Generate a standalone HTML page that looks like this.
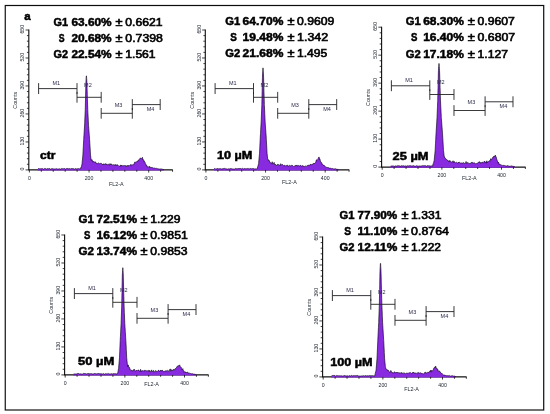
<!DOCTYPE html>
<html><head><meta charset="utf-8"><title>Figure a</title>
<style>
html,body{margin:0;padding:0;background:#fff;}
body{width:550px;height:414px;overflow:hidden;}
svg{display:block;font-family:"Liberation Sans",sans-serif;}
</style></head><body>
<svg width="550" height="414" viewBox="0 0 550 414">
<defs><filter id="soft" x="0" y="0" width="550" height="414" filterUnits="userSpaceOnUse"><feGaussianBlur stdDeviation="0.35"/></filter></defs>
<rect x="0" y="0" width="550" height="414" fill="#fff"/>
<g filter="url(#soft)">
<rect x="5.25" y="5.5" width="538.45" height="404.5" fill="none" stroke="#111" stroke-width="1.2"/>
<g transform="translate(0,0)">
<path d="M28.8,29.6 V170.5 M28.2,169.9 H172.8" stroke="#111" stroke-width="1.1" fill="none"/>
<path d="M37.5,170.45 L37.85,169.05 L38.5,168.51 L39.15,168.58 L39.8,168.96 L40.45,168.78 L41.1,168.81 L41.75,168.66 L42.4,168.56 L43.05,169.08 L43.7,169.13 L44.35,168.52 L45,168.83 L45.65,168.58 L46.3,169.15 L46.95,168.82 L47.6,168.61 L48.25,168.98 L48.9,168.44 L49.55,168.47 L50.2,169.13 L50.85,169.13 L51.5,168.74 L52.15,168.45 L52.8,168.86 L53.45,168.99 L54.1,168.83 L54.75,169.13 L55.4,168.98 L56.05,168.82 L56.7,168.78 L57.35,168.98 L58,168.98 L58.65,168.99 L59.3,168.81 L59.95,168.93 L60.6,169.13 L61.25,168.52 L61.9,168.73 L62.55,168.67 L63.2,169.01 L63.85,168.41 L64.5,168.51 L65.15,169.06 L65.8,168.9 L66.45,168.61 L67.1,168.62 L67.75,168.45 L68.4,168.83 L69.05,168.53 L69.7,168.65 L70.35,168.92 L71,168.71 L71.65,168.49 L72.3,168.52 L72.95,168.77 L73.6,168.71 L74.25,169.12 L74.9,168.97 L75.55,168.55 L76.2,168.84 L76.85,169.02 L77.5,168.74 L78.15,168.62 L78.8,168.64 L79.45,168.87 L80.1,168.82 L80.4,168.77 L80.75,167.75 L81.2,166.89 L81.4,166.79 L82,163.98 L82.05,163.47 L82.7,156.91 L82.9,154.89 L83.35,146.3 L83.7,139.62 L84,134.74 L84.6,125 L84.65,123.82 L85.25,109.63 L85.3,107.6 L85.55,97.45 L85.9,82.46 L85.95,81.68 L86.32,79.4 L86.4,79.4 L86.48,79.4 L86.6,79.4 L86.9,82.46 L87.25,94.12 L87.35,97.45 L87.75,109.63 L87.9,112.71 L88.5,125 L88.55,125.66 L89.2,134.3 L89.6,139.62 L89.85,143.86 L90.5,154.89 L91.15,160.26 L91.6,160.56 L91.8,159.5 L92.45,160.88 L92.9,161.1 L93.1,162.19 L93.75,161.35 L94,161.69 L94.4,162.22 L95.05,161.72 L95.7,162.11 L96.35,163.49 L97,163.25 L97.65,163.73 L98,163.39 L98.3,162.81 L98.95,163.28 L99.6,163.66 L100.25,163.37 L100.9,163.42 L101.55,163.46 L102.2,163.93 L102.85,165.03 L103.5,163.81 L104.15,164.16 L104.8,164.28 L105.45,163.58 L106,164.99 L106.1,164.69 L106.75,163.82 L107.4,164.92 L108.05,164.42 L108.7,164.17 L109.35,165.41 L110,163.54 L110.65,164.96 L111.3,163.83 L111.95,164.81 L112.6,165.15 L113.25,164.47 L113.9,165.32 L114.5,165.15 L114.55,165.27 L115.2,164.31 L115.85,165.81 L116.5,164.87 L117.15,164.93 L117.8,164.83 L118.45,165.75 L119.1,166.48 L119.75,166.46 L120.4,164.92 L121.05,166.3 L121.7,164.97 L122.35,165.79 L123,166.1 L123.65,165.58 L124.3,165.53 L124.95,165.66 L125.6,165.98 L126,165.37 L126.25,166.79 L126.9,166.2 L127.55,165.36 L128.2,166.27 L128.85,165.14 L129.5,165.92 L130.15,165.27 L130.8,164.69 L131,164.22 L131.45,165.87 L132.1,165.51 L132.75,164.57 L133.4,164.68 L134,164.55 L134.05,163.99 L134.7,162.11 L135.35,162.18 L136,162.56 L136.65,161.56 L137.3,161.12 L137.8,161.1 L137.95,161.32 L138.6,159.87 L139.25,159.88 L139.8,158.69 L139.9,158.81 L140.55,157.83 L141.2,158.73 L141.85,158.2 L142.5,157.37 L142.6,159.44 L143.15,159.18 L143.8,161.63 L144.4,160.79 L144.45,161.49 L145.1,162.6 L145.75,164.96 L146.4,164.95 L146.5,164.84 L147.05,167 L147.7,166.71 L148.35,166.65 L149,167.47 L149.65,166.26 L150.3,167.7 L150.95,167.21 L151.6,167.51 L152.25,167.58 L152.4,167.76 L152.9,167.61 L153.55,168.19 L154.2,168.13 L154.85,168.08 L155.5,168.38 L156.15,168.52 L156.8,168.29 L157.45,168.72 L158,168.68 L158.1,168.66 L158.75,169.01 L159.4,169.05 L160.05,168.92 L160.7,168.99 L161.35,169.04 L162,169 L162.65,169.33 L163.3,169.45 L163.95,169.45 L164,169.45 L164,170.45 Z" fill="#8729e0" stroke="none"/>
<path d="M37.85,169.05 L38.5,168.51 L39.15,168.58 L39.8,168.96 L40.45,168.78 L41.1,168.81 L41.75,168.66 L42.4,168.56 L43.05,169.08 L43.7,169.13 L44.35,168.52 L45,168.83 L45.65,168.58 L46.3,169.15 L46.95,168.82 L47.6,168.61 L48.25,168.98 L48.9,168.44 L49.55,168.47 L50.2,169.13 L50.85,169.13 L51.5,168.74 L52.15,168.45 L52.8,168.86 L53.45,168.99 L54.1,168.83 L54.75,169.13 L55.4,168.98 L56.05,168.82 L56.7,168.78 L57.35,168.98 L58,168.98 L58.65,168.99 L59.3,168.81 L59.95,168.93 L60.6,169.13 L61.25,168.52 L61.9,168.73 L62.55,168.67 L63.2,169.01 L63.85,168.41 L64.5,168.51 L65.15,169.06 L65.8,168.9 L66.45,168.61 L67.1,168.62 L67.75,168.45 L68.4,168.83 L69.05,168.53 L69.7,168.65 L70.35,168.92 L71,168.71 L71.65,168.49 L72.3,168.52 L72.95,168.77 L73.6,168.71 L74.25,169.12 L74.9,168.97 L75.55,168.55 L76.2,168.84 L76.85,169.02 L77.5,168.74 L78.15,168.62 L78.8,168.64 L79.45,168.87 L80.1,168.82 L80.4,168.77 L80.75,167.75 L81.2,166.89 L81.4,166.79 L82,163.98 L82.05,163.47 L82.7,156.91 L82.9,154.89 L83.35,146.3 L83.7,139.62 L84,134.74 L84.6,125 L84.65,123.82 L85.25,109.63 L85.3,107.6 L85.55,97.45 L85.9,82.46 L85.95,81.68 L86.32,75.9 L86.4,75.9 L86.48,75.9 L86.6,77.77 L86.9,82.46 L87.25,94.12 L87.35,97.45 L87.75,109.63 L87.9,112.71 L88.5,125 L88.55,125.66 L89.2,134.3 L89.6,139.62 L89.85,143.86 L90.5,154.89 L91.15,160.26 L91.6,160.56 L91.8,159.5 L92.45,160.88 L92.9,161.1 L93.1,162.19 L93.75,161.35 L94,161.69 L94.4,162.22 L95.05,161.72 L95.7,162.11 L96.35,163.49 L97,163.25 L97.65,163.73 L98,163.39 L98.3,162.81 L98.95,163.28 L99.6,163.66 L100.25,163.37 L100.9,163.42 L101.55,163.46 L102.2,163.93 L102.85,165.03 L103.5,163.81 L104.15,164.16 L104.8,164.28 L105.45,163.58 L106,164.99 L106.1,164.69 L106.75,163.82 L107.4,164.92 L108.05,164.42 L108.7,164.17 L109.35,165.41 L110,163.54 L110.65,164.96 L111.3,163.83 L111.95,164.81 L112.6,165.15 L113.25,164.47 L113.9,165.32 L114.5,165.15 L114.55,165.27 L115.2,164.31 L115.85,165.81 L116.5,164.87 L117.15,164.93 L117.8,164.83 L118.45,165.75 L119.1,166.48 L119.75,166.46 L120.4,164.92 L121.05,166.3 L121.7,164.97 L122.35,165.79 L123,166.1 L123.65,165.58 L124.3,165.53 L124.95,165.66 L125.6,165.98 L126,165.37 L126.25,166.79 L126.9,166.2 L127.55,165.36 L128.2,166.27 L128.85,165.14 L129.5,165.92 L130.15,165.27 L130.8,164.69 L131,164.22 L131.45,165.87 L132.1,165.51 L132.75,164.57 L133.4,164.68 L134,164.55 L134.05,163.99 L134.7,162.11 L135.35,162.18 L136,162.56 L136.65,161.56 L137.3,161.12 L137.8,161.1 L137.95,161.32 L138.6,159.87 L139.25,159.88 L139.8,158.69 L139.9,158.81 L140.55,157.83 L141.2,158.73 L141.85,158.2 L142.5,157.37 L142.6,159.44 L143.15,159.18 L143.8,161.63 L144.4,160.79 L144.45,161.49 L145.1,162.6 L145.75,164.96 L146.4,164.95 L146.5,164.84 L147.05,167 L147.7,166.71 L148.35,166.65 L149,167.47 L149.65,166.26 L150.3,167.7 L150.95,167.21 L151.6,167.51 L152.25,167.58 L152.4,167.76 L152.9,167.61 L153.55,168.19 L154.2,168.13 L154.85,168.08 L155.5,168.38 L156.15,168.52 L156.8,168.29 L157.45,168.72 L158,168.68 L158.1,168.66 L158.75,169.01 L159.4,169.05 L160.05,168.92 L160.7,168.99 L161.35,169.04 L162,169 L162.65,169.33 L163.3,169.45 L163.95,169.45 L164,169.45" fill="none" stroke="#0c0418" stroke-width="0.65" stroke-linejoin="round"/>
<path d="M25.6,30 H28.8 M26.9,35.6 H28.8 M26.9,41.19 H28.8 M26.9,46.79 H28.8 M26.9,52.38 H28.8 M25.6,57.98 H28.8 M26.9,63.58 H28.8 M26.9,69.17 H28.8 M26.9,74.77 H28.8 M26.9,80.36 H28.8 M25.6,85.96 H28.8 M26.9,91.56 H28.8 M26.9,97.15 H28.8 M26.9,102.75 H28.8 M26.9,108.34 H28.8 M25.6,113.94 H28.8 M26.9,119.54 H28.8 M26.9,125.13 H28.8 M26.9,130.73 H28.8 M26.9,136.32 H28.8 M25.6,141.92 H28.8 M26.9,147.52 H28.8 M26.9,153.11 H28.8 M26.9,158.71 H28.8 M26.9,164.3 H28.8 M25.6,169.9 H28.8 M29.4,169.9 V172.5 M41.33,169.9 V171.8 M53.26,169.9 V171.8 M65.19,169.9 V171.8 M77.12,169.9 V171.8 M89.05,169.9 V172.5 M100.98,169.9 V171.8 M112.91,169.9 V171.8 M124.84,169.9 V171.8 M136.77,169.9 V171.8 M148.7,169.9 V172.5 M160.63,169.9 V171.8 M172.56,169.9 V171.8" stroke="#111" stroke-width="0.8" fill="none"/>
<text transform="translate(24,29.2) rotate(-90)" text-anchor="middle" font-size="5.3" fill="#222a34">650</text>
<text transform="translate(24,57.18) rotate(-90)" text-anchor="middle" font-size="5.3" fill="#222a34">520</text>
<text transform="translate(24,85.16) rotate(-90)" text-anchor="middle" font-size="5.3" fill="#222a34">390</text>
<text transform="translate(24,113.14) rotate(-90)" text-anchor="middle" font-size="5.3" fill="#222a34">260</text>
<text transform="translate(24,141.12) rotate(-90)" text-anchor="middle" font-size="5.3" fill="#222a34">130</text>
<text transform="translate(24,169.1) rotate(-90)" text-anchor="middle" font-size="5.3" fill="#222a34">0</text>
<text x="29.4" y="179.5" text-anchor="middle" font-size="5.2" fill="#222a34">0</text>
<text x="89.05" y="179.5" text-anchor="middle" font-size="5.2" fill="#222a34">200</text>
<text x="148.7" y="179.5" text-anchor="middle" font-size="5.2" fill="#222a34">400</text>
<text x="116.3" y="186.2" text-anchor="middle" font-size="5.4" fill="#222a34">FL2-A</text>
<text transform="translate(17.3,100.3) rotate(-90)" text-anchor="middle" font-size="5.3" fill="#222a34">Counts</text>
<path d="M38.6,88.6 H77 M38.6,83.1 V94 M77,83.1 V94 M77,97.3 H101.2 M77,91.9 V102.7 M101.2,91.9 V102.7 M101.2,113.3 H132.3 M101.2,108 V118.7 M132.3,108 V118.7 M132.3,104.6 H160.2 M132.3,99.1 V110 M160.2,99.1 V110" stroke="#222226" stroke-width="0.9" fill="none"/>
<text x="56.2" y="85.3" text-anchor="middle" font-size="5.5" fill="#2a2a48">M1</text>
<text x="87.9" y="87.2" text-anchor="middle" font-size="5.5" fill="#2a2a48">M2</text>
<text x="118.6" y="106.8" text-anchor="middle" font-size="5.5" fill="#2a2a48">M3</text>
<text x="150.6" y="110.9" text-anchor="middle" font-size="5.5" fill="#2a2a48">M4</text>
</g>
<g transform="translate(176.5,0)">
<path d="M28.8,29.6 V170.5 M28.2,169.9 H172.8" stroke="#111" stroke-width="1.1" fill="none"/>
<path d="M37.5,170.45 L37.85,168.43 L38.5,168.44 L39.15,169.11 L39.8,169.09 L40.45,168.52 L41.1,168.6 L41.75,168.65 L42.4,168.92 L43.05,168.7 L43.7,168.69 L44.35,168.71 L45,169.03 L45.65,168.83 L46.3,168.85 L46.95,168.61 L47.6,168.4 L48.25,168.44 L48.9,168.74 L49.55,168.82 L50.2,168.95 L50.85,169.12 L51.5,169.13 L52.15,168.8 L52.8,168.91 L53.45,168.86 L54.1,168.48 L54.75,168.76 L55.4,168.73 L56.05,168.97 L56.7,169.13 L57.35,168.91 L58,169.05 L58.65,168.77 L59.3,168.4 L59.95,168.64 L60.6,169.01 L61.25,168.48 L61.9,168.55 L62.55,168.6 L63.2,168.47 L63.85,168.58 L64.5,168.56 L65.15,168.88 L65.8,168.41 L66.45,168.43 L67.1,169.03 L67.75,168.58 L68.4,168.61 L69.05,168.8 L69.7,168.75 L70.35,168.78 L71,168.46 L71.65,168.77 L72.3,168.53 L72.95,168.88 L73.6,168.49 L74.25,168.48 L74.9,168.8 L75.55,168.72 L76.2,168.46 L76.85,168.61 L77.5,168.79 L78.15,168.98 L78.8,168.91 L79.45,168.63 L80.1,169.03 L80.5,168.47 L80.75,168.31 L81.3,166.43 L81.4,166.38 L82.05,163.75 L82.1,163.5 L82.7,156.92 L83,153.63 L83.35,146.38 L83.8,137.06 L84,133.53 L84.65,122.07 L84.7,121.19 L85.3,105.79 L85.35,104.51 L85.65,91.29 L85.95,77.34 L86,75.02 L86.42,71.4 L86.5,71.4 L86.58,71.4 L86.6,71.4 L87,75.02 L87.25,84.06 L87.45,91.29 L87.85,104.51 L87.9,105.62 L88.5,118.97 L88.55,120.08 L88.6,121.19 L89.2,129.84 L89.7,137.06 L89.85,139.82 L90.5,151.79 L90.6,153.63 L91.15,158.57 L91.6,159.34 L91.7,160.17 L91.8,160.49 L92.45,159.93 L93,161.63 L93.1,161.37 L93.7,162.7 L93.75,162.49 L94.4,163.05 L94.5,163.22 L95.05,163.57 L95.7,161.74 L96.35,164.12 L97,163.29 L97.65,162.41 L98.3,165.08 L98.95,164.24 L99.6,165.24 L100.25,165.53 L100.9,164.42 L101.55,164.34 L101.9,164.48 L102.2,165.16 L102.85,164.89 L103.5,165.88 L104.15,163.7 L104.8,165.13 L105.45,164.39 L106.1,164.58 L106.75,165.22 L107.4,166.26 L108.05,165.19 L108.7,165.41 L109.35,166.25 L110,165.59 L110.65,164.89 L111.3,166.12 L111.95,166.12 L112.6,165.52 L113.25,165.4 L113.9,165.92 L114.55,165.76 L115.2,165.11 L115.85,165.5 L116.5,165.7 L117.15,166.41 L117.8,165.95 L118.2,166.32 L118.45,166.49 L119.1,165.2 L119.75,166.1 L120.4,164.94 L121.05,166.11 L121.7,165.61 L122.35,165.44 L123,165.92 L123.65,165.76 L124.3,165.12 L124.95,166.75 L125.6,166.6 L126.25,165.34 L126.9,166.73 L127.55,166.06 L128,166.4 L128.2,166.6 L128.85,166.01 L129.5,166.44 L130.15,166.16 L130.8,165.74 L131.45,165.05 L132.1,165.15 L132.75,166.04 L133.4,165.01 L134.05,163.94 L134.6,164.83 L134.7,164.68 L135.35,165.01 L136,163.96 L136.65,164.14 L137.3,163.12 L137.5,163.07 L137.95,163.72 L138.6,162.77 L139.25,162.26 L139.5,161.19 L139.9,159.78 L140.55,160.35 L141.2,159.6 L141.85,158.13 L142.3,157.13 L142.5,156.93 L143.15,159.34 L143.3,158.91 L143.8,160.46 L144.45,162.52 L145.1,162.6 L145.2,164.29 L145.75,163.97 L146.4,164.53 L147,165.65 L147.05,165.19 L147.7,165.37 L148.35,166.01 L149,167 L149.3,167.72 L149.65,167.41 L150.3,167.3 L150.95,167.48 L151.6,167.4 L152.25,167.8 L152.9,167.96 L153,168.42 L153.55,168.35 L154.2,168.02 L154.85,168.77 L155.5,168.41 L156.15,168.54 L156.8,168.95 L157.45,168.69 L157.5,168.62 L158.1,169.05 L158.75,168.71 L159.4,169.02 L160.05,169.26 L160.7,169.35 L160.8,169.31 L161.35,169.43 L162,169.45 L162,170.45 Z" fill="#8729e0" stroke="none"/>
<path d="M37.85,168.43 L38.5,168.44 L39.15,169.11 L39.8,169.09 L40.45,168.52 L41.1,168.6 L41.75,168.65 L42.4,168.92 L43.05,168.7 L43.7,168.69 L44.35,168.71 L45,169.03 L45.65,168.83 L46.3,168.85 L46.95,168.61 L47.6,168.4 L48.25,168.44 L48.9,168.74 L49.55,168.82 L50.2,168.95 L50.85,169.12 L51.5,169.13 L52.15,168.8 L52.8,168.91 L53.45,168.86 L54.1,168.48 L54.75,168.76 L55.4,168.73 L56.05,168.97 L56.7,169.13 L57.35,168.91 L58,169.05 L58.65,168.77 L59.3,168.4 L59.95,168.64 L60.6,169.01 L61.25,168.48 L61.9,168.55 L62.55,168.6 L63.2,168.47 L63.85,168.58 L64.5,168.56 L65.15,168.88 L65.8,168.41 L66.45,168.43 L67.1,169.03 L67.75,168.58 L68.4,168.61 L69.05,168.8 L69.7,168.75 L70.35,168.78 L71,168.46 L71.65,168.77 L72.3,168.53 L72.95,168.88 L73.6,168.49 L74.25,168.48 L74.9,168.8 L75.55,168.72 L76.2,168.46 L76.85,168.61 L77.5,168.79 L78.15,168.98 L78.8,168.91 L79.45,168.63 L80.1,169.03 L80.5,168.47 L80.75,168.31 L81.3,166.43 L81.4,166.38 L82.05,163.75 L82.1,163.5 L82.7,156.92 L83,153.63 L83.35,146.38 L83.8,137.06 L84,133.53 L84.65,122.07 L84.7,121.19 L85.3,105.79 L85.35,104.51 L85.65,91.29 L85.95,77.34 L86,75.02 L86.42,67.9 L86.5,67.9 L86.58,67.9 L86.6,68.24 L87,75.02 L87.25,84.06 L87.45,91.29 L87.85,104.51 L87.9,105.62 L88.5,118.97 L88.55,120.08 L88.6,121.19 L89.2,129.84 L89.7,137.06 L89.85,139.82 L90.5,151.79 L90.6,153.63 L91.15,158.57 L91.6,159.34 L91.7,160.17 L91.8,160.49 L92.45,159.93 L93,161.63 L93.1,161.37 L93.7,162.7 L93.75,162.49 L94.4,163.05 L94.5,163.22 L95.05,163.57 L95.7,161.74 L96.35,164.12 L97,163.29 L97.65,162.41 L98.3,165.08 L98.95,164.24 L99.6,165.24 L100.25,165.53 L100.9,164.42 L101.55,164.34 L101.9,164.48 L102.2,165.16 L102.85,164.89 L103.5,165.88 L104.15,163.7 L104.8,165.13 L105.45,164.39 L106.1,164.58 L106.75,165.22 L107.4,166.26 L108.05,165.19 L108.7,165.41 L109.35,166.25 L110,165.59 L110.65,164.89 L111.3,166.12 L111.95,166.12 L112.6,165.52 L113.25,165.4 L113.9,165.92 L114.55,165.76 L115.2,165.11 L115.85,165.5 L116.5,165.7 L117.15,166.41 L117.8,165.95 L118.2,166.32 L118.45,166.49 L119.1,165.2 L119.75,166.1 L120.4,164.94 L121.05,166.11 L121.7,165.61 L122.35,165.44 L123,165.92 L123.65,165.76 L124.3,165.12 L124.95,166.75 L125.6,166.6 L126.25,165.34 L126.9,166.73 L127.55,166.06 L128,166.4 L128.2,166.6 L128.85,166.01 L129.5,166.44 L130.15,166.16 L130.8,165.74 L131.45,165.05 L132.1,165.15 L132.75,166.04 L133.4,165.01 L134.05,163.94 L134.6,164.83 L134.7,164.68 L135.35,165.01 L136,163.96 L136.65,164.14 L137.3,163.12 L137.5,163.07 L137.95,163.72 L138.6,162.77 L139.25,162.26 L139.5,161.19 L139.9,159.78 L140.55,160.35 L141.2,159.6 L141.85,158.13 L142.3,157.13 L142.5,156.93 L143.15,159.34 L143.3,158.91 L143.8,160.46 L144.45,162.52 L145.1,162.6 L145.2,164.29 L145.75,163.97 L146.4,164.53 L147,165.65 L147.05,165.19 L147.7,165.37 L148.35,166.01 L149,167 L149.3,167.72 L149.65,167.41 L150.3,167.3 L150.95,167.48 L151.6,167.4 L152.25,167.8 L152.9,167.96 L153,168.42 L153.55,168.35 L154.2,168.02 L154.85,168.77 L155.5,168.41 L156.15,168.54 L156.8,168.95 L157.45,168.69 L157.5,168.62 L158.1,169.05 L158.75,168.71 L159.4,169.02 L160.05,169.26 L160.7,169.35 L160.8,169.31 L161.35,169.43 L162,169.45" fill="none" stroke="#0c0418" stroke-width="0.65" stroke-linejoin="round"/>
<path d="M25.6,30 H28.8 M26.9,35.6 H28.8 M26.9,41.19 H28.8 M26.9,46.79 H28.8 M26.9,52.38 H28.8 M25.6,57.98 H28.8 M26.9,63.58 H28.8 M26.9,69.17 H28.8 M26.9,74.77 H28.8 M26.9,80.36 H28.8 M25.6,85.96 H28.8 M26.9,91.56 H28.8 M26.9,97.15 H28.8 M26.9,102.75 H28.8 M26.9,108.34 H28.8 M25.6,113.94 H28.8 M26.9,119.54 H28.8 M26.9,125.13 H28.8 M26.9,130.73 H28.8 M26.9,136.32 H28.8 M25.6,141.92 H28.8 M26.9,147.52 H28.8 M26.9,153.11 H28.8 M26.9,158.71 H28.8 M26.9,164.3 H28.8 M25.6,169.9 H28.8 M29.4,169.9 V172.5 M41.33,169.9 V171.8 M53.26,169.9 V171.8 M65.19,169.9 V171.8 M77.12,169.9 V171.8 M89.05,169.9 V172.5 M100.98,169.9 V171.8 M112.91,169.9 V171.8 M124.84,169.9 V171.8 M136.77,169.9 V171.8 M148.7,169.9 V172.5 M160.63,169.9 V171.8 M172.56,169.9 V171.8" stroke="#111" stroke-width="0.8" fill="none"/>
<text transform="translate(24,29.2) rotate(-90)" text-anchor="middle" font-size="5.3" fill="#222a34">650</text>
<text transform="translate(24,57.18) rotate(-90)" text-anchor="middle" font-size="5.3" fill="#222a34">520</text>
<text transform="translate(24,85.16) rotate(-90)" text-anchor="middle" font-size="5.3" fill="#222a34">390</text>
<text transform="translate(24,113.14) rotate(-90)" text-anchor="middle" font-size="5.3" fill="#222a34">260</text>
<text transform="translate(24,141.12) rotate(-90)" text-anchor="middle" font-size="5.3" fill="#222a34">130</text>
<text transform="translate(24,169.1) rotate(-90)" text-anchor="middle" font-size="5.3" fill="#222a34">0</text>
<text x="29.4" y="179.5" text-anchor="middle" font-size="5.2" fill="#222a34">0</text>
<text x="89.05" y="179.5" text-anchor="middle" font-size="5.2" fill="#222a34">200</text>
<text x="148.7" y="179.5" text-anchor="middle" font-size="5.2" fill="#222a34">400</text>
<text x="112.9" y="184.4" text-anchor="middle" font-size="5.4" fill="#222a34">FL2-A</text>
<text transform="translate(17.3,100.3) rotate(-90)" text-anchor="middle" font-size="5.3" fill="#222a34">Counts</text>
<path d="M38.6,88.6 H77 M38.6,83.1 V94 M77,83.1 V94 M77,97.3 H101.2 M77,91.9 V102.7 M101.2,91.9 V102.7 M101.2,113.3 H132.3 M101.2,108 V118.7 M132.3,108 V118.7 M132.3,104.6 H160.2 M132.3,99.1 V110 M160.2,99.1 V110" stroke="#222226" stroke-width="0.9" fill="none"/>
<text x="56.2" y="85.3" text-anchor="middle" font-size="5.5" fill="#2a2a48">M1</text>
<text x="87.9" y="87.2" text-anchor="middle" font-size="5.5" fill="#2a2a48">M2</text>
<text x="118.6" y="106.8" text-anchor="middle" font-size="5.5" fill="#2a2a48">M3</text>
<text x="150.6" y="110.9" text-anchor="middle" font-size="5.5" fill="#2a2a48">M4</text>
</g>
<g transform="translate(352.8,-2.8)">
<path d="M28.8,29.6 V170.5 M28.2,169.9 H172.8" stroke="#111" stroke-width="1.1" fill="none"/>
<path d="M37.5,170.45 L37.85,168.97 L38.5,168.74 L39.15,168.87 L39.8,168.7 L40.45,168.68 L41.1,169.1 L41.75,169.14 L42.4,168.52 L43.05,168.96 L43.7,168.97 L44.35,168.4 L45,168.8 L45.65,168.52 L46.3,168.79 L46.95,168.67 L47.6,169.04 L48.25,168.67 L48.9,168.5 L49.55,168.76 L50.2,168.59 L50.85,168.65 L51.5,169.1 L52.15,168.58 L52.8,168.71 L53.45,168.92 L54.1,169.13 L54.75,168.5 L55.4,168.8 L56.05,168.61 L56.7,168.49 L57.35,168.61 L58,168.46 L58.65,168.85 L59.3,168.55 L59.95,168.82 L60.6,168.45 L61.25,168.49 L61.9,169.08 L62.55,169.05 L63.2,168.99 L63.85,168.43 L64.5,168.82 L65.15,168.68 L65.8,168.92 L66.45,168.77 L67.1,168.86 L67.75,168.89 L68.4,168.71 L69.05,168.71 L69.7,168.47 L70.35,168.64 L71,168.45 L71.65,168.51 L72.3,168.41 L72.95,168.65 L73.6,169.03 L74.25,168.5 L74.9,168.43 L75.55,168.47 L76.2,168.72 L76.85,168.61 L77.5,168.99 L78.15,168.53 L78.8,168.72 L79.45,168.94 L79.6,169.1 L80.1,167.34 L80.48,166.34 L80.75,165.75 L81.36,163.4 L81.4,163 L82.05,156.42 L82.35,153.38 L82.7,146.69 L83.23,136.54 L83.35,134.59 L84,124.01 L84.22,120.43 L84.65,110.24 L84.94,103.28 L85.27,89.84 L85.3,88.56 L85.65,73.53 L85.95,69.8 L86.11,69.8 L86.2,69.8 L86.29,69.8 L86.6,71.18 L86.75,73.53 L87.25,90.21 L87.69,103.59 L87.9,107.9 L88.5,120.22 L88.51,120.43 L88.55,120.96 L89.2,129.62 L89.72,136.54 L89.85,138.76 L90.5,149.81 L90.71,153.38 L91.15,157.03 L91.3,158.27 L91.8,160.56 L91.92,160.29 L92.45,160.83 L92.6,160.92 L93.1,162.25 L93.35,162.17 L93.75,162.32 L94.4,162.71 L95,163.31 L95.05,162.98 L95.7,164.14 L96,163.96 L96.35,164.9 L97,163.16 L97.65,164.13 L98.3,165.2 L98.95,164.64 L99.6,164.96 L100.25,163.53 L100.9,165.71 L101.55,164.3 L101.6,165.17 L102.2,165.44 L102.85,165.49 L103.5,165.05 L104.15,165.46 L104.8,166.09 L105.45,164.93 L106.1,165.84 L106.75,164.95 L107.4,165.56 L108.05,166.16 L108.7,165.81 L109.35,165.67 L110,166.16 L110.65,165.38 L111.3,165.75 L111.95,166.34 L112.6,166.26 L113.25,164.29 L113.9,166.17 L114.55,165.59 L115.2,165.22 L115.85,166.25 L116.5,166.31 L117.15,166.1 L117.8,166.14 L118,165.68 L118.45,165.24 L119.1,165.15 L119.75,165.2 L120.4,166.42 L121.05,165.37 L121.7,165.89 L122.35,166.18 L123,166.63 L123.65,166.25 L124.3,166.65 L124.95,165.53 L125.6,165.17 L126.25,164.8 L126.9,164.5 L127.55,166.15 L128,165.76 L128.2,165.03 L128.85,165.98 L129.5,165.02 L130.15,165.08 L130.8,166 L131.45,163.98 L132.1,164.85 L132.75,164.75 L133.4,166.04 L134.05,163.61 L134.3,165.49 L134.7,164.82 L135.35,164.53 L136,164.05 L136.65,163.46 L137.3,164.08 L137.95,161.46 L138.4,162.7 L138.6,162.79 L139.25,161.48 L139.9,160.33 L140.55,159.65 L140.6,160.11 L141.2,158.84 L141.85,159.36 L142.5,157.92 L143.15,159.75 L143.4,159.89 L143.8,161.68 L144.45,163.33 L144.9,164.87 L145.1,165.88 L145.75,165.03 L146.4,167.18 L146.5,166.68 L147.05,167.62 L147.7,167.48 L148.35,167.67 L149,168.19 L149.65,168.19 L150.3,168.38 L150.95,168.17 L151.6,168.21 L152.25,168.82 L152.9,168.62 L153.55,168.91 L154.2,168.65 L154.85,168.39 L155,168.64 L155.5,168.68 L156.15,168.83 L156.8,169.08 L157.45,168.93 L158.1,169.11 L158.75,168.68 L159.4,169.1 L160.05,168.98 L160.5,169.19 L160.7,169.14 L161.35,169.4 L162,169.45 L162,170.45 Z" fill="#8729e0" stroke="none"/>
<path d="M37.85,168.97 L38.5,168.74 L39.15,168.87 L39.8,168.7 L40.45,168.68 L41.1,169.1 L41.75,169.14 L42.4,168.52 L43.05,168.96 L43.7,168.97 L44.35,168.4 L45,168.8 L45.65,168.52 L46.3,168.79 L46.95,168.67 L47.6,169.04 L48.25,168.67 L48.9,168.5 L49.55,168.76 L50.2,168.59 L50.85,168.65 L51.5,169.1 L52.15,168.58 L52.8,168.71 L53.45,168.92 L54.1,169.13 L54.75,168.5 L55.4,168.8 L56.05,168.61 L56.7,168.49 L57.35,168.61 L58,168.46 L58.65,168.85 L59.3,168.55 L59.95,168.82 L60.6,168.45 L61.25,168.49 L61.9,169.08 L62.55,169.05 L63.2,168.99 L63.85,168.43 L64.5,168.82 L65.15,168.68 L65.8,168.92 L66.45,168.77 L67.1,168.86 L67.75,168.89 L68.4,168.71 L69.05,168.71 L69.7,168.47 L70.35,168.64 L71,168.45 L71.65,168.51 L72.3,168.41 L72.95,168.65 L73.6,169.03 L74.25,168.5 L74.9,168.43 L75.55,168.47 L76.2,168.72 L76.85,168.61 L77.5,168.99 L78.15,168.53 L78.8,168.72 L79.45,168.94 L79.6,169.1 L80.1,167.34 L80.48,166.34 L80.75,165.75 L81.36,163.4 L81.4,163 L82.05,156.42 L82.35,153.38 L82.7,146.69 L83.23,136.54 L83.35,134.59 L84,124.01 L84.22,120.43 L84.65,110.24 L84.94,103.28 L85.27,89.84 L85.3,88.56 L85.65,73.53 L85.95,68.84 L86.11,66.33 L86.2,66.3 L86.29,66.33 L86.6,71.18 L86.75,73.53 L87.25,90.21 L87.69,103.59 L87.9,107.9 L88.5,120.22 L88.51,120.43 L88.55,120.96 L89.2,129.62 L89.72,136.54 L89.85,138.76 L90.5,149.81 L90.71,153.38 L91.15,157.03 L91.3,158.27 L91.8,160.56 L91.92,160.29 L92.45,160.83 L92.6,160.92 L93.1,162.25 L93.35,162.17 L93.75,162.32 L94.4,162.71 L95,163.31 L95.05,162.98 L95.7,164.14 L96,163.96 L96.35,164.9 L97,163.16 L97.65,164.13 L98.3,165.2 L98.95,164.64 L99.6,164.96 L100.25,163.53 L100.9,165.71 L101.55,164.3 L101.6,165.17 L102.2,165.44 L102.85,165.49 L103.5,165.05 L104.15,165.46 L104.8,166.09 L105.45,164.93 L106.1,165.84 L106.75,164.95 L107.4,165.56 L108.05,166.16 L108.7,165.81 L109.35,165.67 L110,166.16 L110.65,165.38 L111.3,165.75 L111.95,166.34 L112.6,166.26 L113.25,164.29 L113.9,166.17 L114.55,165.59 L115.2,165.22 L115.85,166.25 L116.5,166.31 L117.15,166.1 L117.8,166.14 L118,165.68 L118.45,165.24 L119.1,165.15 L119.75,165.2 L120.4,166.42 L121.05,165.37 L121.7,165.89 L122.35,166.18 L123,166.63 L123.65,166.25 L124.3,166.65 L124.95,165.53 L125.6,165.17 L126.25,164.8 L126.9,164.5 L127.55,166.15 L128,165.76 L128.2,165.03 L128.85,165.98 L129.5,165.02 L130.15,165.08 L130.8,166 L131.45,163.98 L132.1,164.85 L132.75,164.75 L133.4,166.04 L134.05,163.61 L134.3,165.49 L134.7,164.82 L135.35,164.53 L136,164.05 L136.65,163.46 L137.3,164.08 L137.95,161.46 L138.4,162.7 L138.6,162.79 L139.25,161.48 L139.9,160.33 L140.55,159.65 L140.6,160.11 L141.2,158.84 L141.85,159.36 L142.5,157.92 L143.15,159.75 L143.4,159.89 L143.8,161.68 L144.45,163.33 L144.9,164.87 L145.1,165.88 L145.75,165.03 L146.4,167.18 L146.5,166.68 L147.05,167.62 L147.7,167.48 L148.35,167.67 L149,168.19 L149.65,168.19 L150.3,168.38 L150.95,168.17 L151.6,168.21 L152.25,168.82 L152.9,168.62 L153.55,168.91 L154.2,168.65 L154.85,168.39 L155,168.64 L155.5,168.68 L156.15,168.83 L156.8,169.08 L157.45,168.93 L158.1,169.11 L158.75,168.68 L159.4,169.1 L160.05,168.98 L160.5,169.19 L160.7,169.14 L161.35,169.4 L162,169.45" fill="none" stroke="#0c0418" stroke-width="0.65" stroke-linejoin="round"/>
<path d="M25.6,30 H28.8 M26.9,35.6 H28.8 M26.9,41.19 H28.8 M26.9,46.79 H28.8 M26.9,52.38 H28.8 M25.6,57.98 H28.8 M26.9,63.58 H28.8 M26.9,69.17 H28.8 M26.9,74.77 H28.8 M26.9,80.36 H28.8 M25.6,85.96 H28.8 M26.9,91.56 H28.8 M26.9,97.15 H28.8 M26.9,102.75 H28.8 M26.9,108.34 H28.8 M25.6,113.94 H28.8 M26.9,119.54 H28.8 M26.9,125.13 H28.8 M26.9,130.73 H28.8 M26.9,136.32 H28.8 M25.6,141.92 H28.8 M26.9,147.52 H28.8 M26.9,153.11 H28.8 M26.9,158.71 H28.8 M26.9,164.3 H28.8 M25.6,169.9 H28.8 M29.4,169.9 V172.5 M41.33,169.9 V171.8 M53.26,169.9 V171.8 M65.19,169.9 V171.8 M77.12,169.9 V171.8 M89.05,169.9 V172.5 M100.98,169.9 V171.8 M112.91,169.9 V171.8 M124.84,169.9 V171.8 M136.77,169.9 V171.8 M148.7,169.9 V172.5 M160.63,169.9 V171.8 M172.56,169.9 V171.8" stroke="#111" stroke-width="0.8" fill="none"/>
<text transform="translate(24,29.2) rotate(-90)" text-anchor="middle" font-size="5.3" fill="#222a34">650</text>
<text transform="translate(24,57.18) rotate(-90)" text-anchor="middle" font-size="5.3" fill="#222a34">520</text>
<text transform="translate(24,85.16) rotate(-90)" text-anchor="middle" font-size="5.3" fill="#222a34">390</text>
<text transform="translate(24,113.14) rotate(-90)" text-anchor="middle" font-size="5.3" fill="#222a34">260</text>
<text transform="translate(24,141.12) rotate(-90)" text-anchor="middle" font-size="5.3" fill="#222a34">130</text>
<text transform="translate(24,169.1) rotate(-90)" text-anchor="middle" font-size="5.3" fill="#222a34">0</text>
<text x="29.4" y="179.5" text-anchor="middle" font-size="5.2" fill="#222a34">0</text>
<text x="89.05" y="179.5" text-anchor="middle" font-size="5.2" fill="#222a34">200</text>
<text x="148.7" y="179.5" text-anchor="middle" font-size="5.2" fill="#222a34">400</text>
<text x="116.5" y="182.8" text-anchor="middle" font-size="5.4" fill="#222a34">FL2-A</text>
<text transform="translate(17.3,100.3) rotate(-90)" text-anchor="middle" font-size="5.3" fill="#222a34">Counts</text>
<path d="M38.6,88.6 H77 M38.6,83.1 V94 M77,83.1 V94 M77,97.3 H101.2 M77,91.9 V102.7 M101.2,91.9 V102.7 M101.2,113.3 H132.3 M101.2,108 V118.7 M132.3,108 V118.7 M132.3,104.6 H160.2 M132.3,99.1 V110 M160.2,99.1 V110" stroke="#222226" stroke-width="0.9" fill="none"/>
<text x="56.2" y="85.3" text-anchor="middle" font-size="5.5" fill="#2a2a48">M1</text>
<text x="87.9" y="87.2" text-anchor="middle" font-size="5.5" fill="#2a2a48">M2</text>
<text x="118.6" y="106.8" text-anchor="middle" font-size="5.5" fill="#2a2a48">M3</text>
<text x="150.6" y="110.9" text-anchor="middle" font-size="5.5" fill="#2a2a48">M4</text>
</g>
<g transform="translate(35.8,205)">
<path d="M28.8,29.6 V170.5 M28.2,169.9 H172.8" stroke="#111" stroke-width="1.1" fill="none"/>
<path d="M37.5,170.45 L37.85,168.97 L38.5,169.07 L39.15,168.85 L39.8,169.03 L40.45,169.1 L41.1,168.85 L41.75,168.46 L42.4,168.55 L43.05,168.58 L43.7,168.98 L44.35,168.75 L45,168.94 L45.65,169.02 L46.3,169.07 L46.95,168.99 L47.6,168.45 L48.25,168.53 L48.9,168.55 L49.55,168.55 L50.2,169 L50.85,168.92 L51.5,168.68 L52.15,168.6 L52.8,168.51 L53.45,168.49 L54.1,169.08 L54.75,168.7 L55.4,168.65 L56.05,168.77 L56.7,169.02 L57.35,168.79 L58,169.08 L58.65,168.45 L59.3,168.5 L59.95,168.74 L60.6,168.92 L61.25,168.47 L61.9,168.72 L62.55,168.49 L63.2,168.51 L63.85,168.77 L64.5,168.84 L65.15,168.7 L65.8,168.83 L66.45,169.03 L67.1,168.92 L67.75,168.54 L68.4,169.12 L69.05,169.12 L69.7,168.68 L70.35,168.94 L71,168.75 L71.65,168.8 L72.3,168.89 L72.95,168.4 L73.6,169 L74.25,168.84 L74.9,169 L75.55,168.68 L76.2,168.94 L76.85,168.88 L77.5,168.59 L78.15,168.91 L78.8,168.73 L79.45,168.47 L80.1,169.07 L80.75,169.1 L81.3,168.98 L81.4,168.29 L82.05,167.49 L82.06,167.46 L82.7,163.86 L82.82,163.19 L83.35,156.76 L83.67,152.88 L84,145.37 L84.44,135.29 L84.65,131.2 L85.29,118.72 L85.3,118.43 L85.91,101.06 L85.95,99.11 L86.19,87.41 L86.53,70.09 L86.6,68.78 L86.92,66.2 L87,66.2 L87.08,66.2 L87.25,66.2 L87.47,70.09 L87.9,87.19 L88.28,101.09 L88.55,107.77 L89,118.8 L89.2,121.99 L89.5,126.77 L89.85,132.36 L90.04,135.39 L90.5,144.77 L90.89,152.71 L91.15,155.35 L91.8,161.8 L91.94,161.56 L92.4,159.85 L92.45,160.16 L93.1,162.56 L93.17,162.8 L93.75,162.59 L94.2,164.23 L94.4,164.98 L94.6,164.78 L95.05,165.5 L95.7,165.34 L96.35,165.46 L96.5,166.26 L97,165.41 L97.65,165.74 L98.3,164 L98.95,165.71 L99.6,165.93 L100.25,165.83 L100.9,165.06 L101.55,165.95 L102.2,165.17 L102.85,164.95 L103.5,166.28 L104.15,166.38 L104.8,164.37 L105,166.66 L105.45,165.8 L106.1,166.08 L106.75,165.67 L107.4,165.52 L108.05,166.64 L108.7,165.32 L109.35,165.25 L110,165.71 L110.65,165.74 L111.3,165.95 L111.95,165.69 L112.6,165.3 L113.25,166.75 L113.9,165.25 L114.55,166.82 L115.2,166.69 L115.85,164.88 L116.5,166.64 L117.15,165.97 L117.8,165.37 L118,166.94 L118.45,166.92 L119.1,166.74 L119.75,165.6 L120.4,165.99 L121.05,166.58 L121.7,166.36 L122.35,165.6 L123,165.11 L123.65,166.84 L124.3,166.07 L124.95,164.96 L125.6,166.27 L126.25,165.09 L126.9,165.45 L127.55,166.73 L128.2,166.22 L128.85,166.33 L129.5,166.03 L130,165.79 L130.15,165.78 L130.8,165.91 L131.45,165.28 L132.1,166.57 L132.75,166.3 L133.4,165.16 L134.05,164.27 L134.7,164.09 L135,166.2 L135.35,165.77 L136,164.6 L136.65,165.93 L137.3,164.81 L137.95,164.32 L138.6,165.21 L139.2,163.71 L139.25,163.8 L139.9,163.38 L140.55,162.76 L141.2,161.6 L141.5,161.3 L141.85,161.03 L142.5,160.81 L143.15,160.96 L143.6,160.13 L143.8,159.87 L144.45,161.54 L145,162.15 L145.1,162 L145.75,163.2 L146.4,164.8 L147.05,163.63 L147.4,165.64 L147.7,165.54 L148.35,167.34 L149,166.45 L149.65,166.98 L150,167.99 L150.3,167.67 L150.95,167.38 L151.6,167.05 L152.25,167.99 L152.9,168.08 L153.55,168.2 L153.9,168.23 L154.2,168.48 L154.85,168.52 L155.5,168.86 L156.15,168.77 L156.8,168.76 L157.45,169.04 L158.1,169.16 L158.75,169.18 L158.8,169.19 L159.4,169.39 L160,169.45 L160,170.45 Z" fill="#8729e0" stroke="none"/>
<path d="M37.85,168.97 L38.5,169.07 L39.15,168.85 L39.8,169.03 L40.45,169.1 L41.1,168.85 L41.75,168.46 L42.4,168.55 L43.05,168.58 L43.7,168.98 L44.35,168.75 L45,168.94 L45.65,169.02 L46.3,169.07 L46.95,168.99 L47.6,168.45 L48.25,168.53 L48.9,168.55 L49.55,168.55 L50.2,169 L50.85,168.92 L51.5,168.68 L52.15,168.6 L52.8,168.51 L53.45,168.49 L54.1,169.08 L54.75,168.7 L55.4,168.65 L56.05,168.77 L56.7,169.02 L57.35,168.79 L58,169.08 L58.65,168.45 L59.3,168.5 L59.95,168.74 L60.6,168.92 L61.25,168.47 L61.9,168.72 L62.55,168.49 L63.2,168.51 L63.85,168.77 L64.5,168.84 L65.15,168.7 L65.8,168.83 L66.45,169.03 L67.1,168.92 L67.75,168.54 L68.4,169.12 L69.05,169.12 L69.7,168.68 L70.35,168.94 L71,168.75 L71.65,168.8 L72.3,168.89 L72.95,168.4 L73.6,169 L74.25,168.84 L74.9,169 L75.55,168.68 L76.2,168.94 L76.85,168.88 L77.5,168.59 L78.15,168.91 L78.8,168.73 L79.45,168.47 L80.1,169.07 L80.75,169.1 L81.3,168.98 L81.4,168.29 L82.05,167.49 L82.06,167.46 L82.7,163.86 L82.82,163.19 L83.35,156.76 L83.67,152.88 L84,145.37 L84.44,135.29 L84.65,131.2 L85.29,118.72 L85.3,118.43 L85.91,101.06 L85.95,99.11 L86.19,87.41 L86.53,70.09 L86.6,68.78 L86.92,62.78 L87,62.7 L87.08,62.78 L87.25,65.96 L87.47,70.09 L87.9,87.19 L88.28,101.09 L88.55,107.77 L89,118.8 L89.2,121.99 L89.5,126.77 L89.85,132.36 L90.04,135.39 L90.5,144.77 L90.89,152.71 L91.15,155.35 L91.8,161.8 L91.94,161.56 L92.4,159.85 L92.45,160.16 L93.1,162.56 L93.17,162.8 L93.75,162.59 L94.2,164.23 L94.4,164.98 L94.6,164.78 L95.05,165.5 L95.7,165.34 L96.35,165.46 L96.5,166.26 L97,165.41 L97.65,165.74 L98.3,164 L98.95,165.71 L99.6,165.93 L100.25,165.83 L100.9,165.06 L101.55,165.95 L102.2,165.17 L102.85,164.95 L103.5,166.28 L104.15,166.38 L104.8,164.37 L105,166.66 L105.45,165.8 L106.1,166.08 L106.75,165.67 L107.4,165.52 L108.05,166.64 L108.7,165.32 L109.35,165.25 L110,165.71 L110.65,165.74 L111.3,165.95 L111.95,165.69 L112.6,165.3 L113.25,166.75 L113.9,165.25 L114.55,166.82 L115.2,166.69 L115.85,164.88 L116.5,166.64 L117.15,165.97 L117.8,165.37 L118,166.94 L118.45,166.92 L119.1,166.74 L119.75,165.6 L120.4,165.99 L121.05,166.58 L121.7,166.36 L122.35,165.6 L123,165.11 L123.65,166.84 L124.3,166.07 L124.95,164.96 L125.6,166.27 L126.25,165.09 L126.9,165.45 L127.55,166.73 L128.2,166.22 L128.85,166.33 L129.5,166.03 L130,165.79 L130.15,165.78 L130.8,165.91 L131.45,165.28 L132.1,166.57 L132.75,166.3 L133.4,165.16 L134.05,164.27 L134.7,164.09 L135,166.2 L135.35,165.77 L136,164.6 L136.65,165.93 L137.3,164.81 L137.95,164.32 L138.6,165.21 L139.2,163.71 L139.25,163.8 L139.9,163.38 L140.55,162.76 L141.2,161.6 L141.5,161.3 L141.85,161.03 L142.5,160.81 L143.15,160.96 L143.6,160.13 L143.8,159.87 L144.45,161.54 L145,162.15 L145.1,162 L145.75,163.2 L146.4,164.8 L147.05,163.63 L147.4,165.64 L147.7,165.54 L148.35,167.34 L149,166.45 L149.65,166.98 L150,167.99 L150.3,167.67 L150.95,167.38 L151.6,167.05 L152.25,167.99 L152.9,168.08 L153.55,168.2 L153.9,168.23 L154.2,168.48 L154.85,168.52 L155.5,168.86 L156.15,168.77 L156.8,168.76 L157.45,169.04 L158.1,169.16 L158.75,169.18 L158.8,169.19 L159.4,169.39 L160,169.45" fill="none" stroke="#0c0418" stroke-width="0.65" stroke-linejoin="round"/>
<path d="M25.6,30 H28.8 M26.9,35.6 H28.8 M26.9,41.19 H28.8 M26.9,46.79 H28.8 M26.9,52.38 H28.8 M25.6,57.98 H28.8 M26.9,63.58 H28.8 M26.9,69.17 H28.8 M26.9,74.77 H28.8 M26.9,80.36 H28.8 M25.6,85.96 H28.8 M26.9,91.56 H28.8 M26.9,97.15 H28.8 M26.9,102.75 H28.8 M26.9,108.34 H28.8 M25.6,113.94 H28.8 M26.9,119.54 H28.8 M26.9,125.13 H28.8 M26.9,130.73 H28.8 M26.9,136.32 H28.8 M25.6,141.92 H28.8 M26.9,147.52 H28.8 M26.9,153.11 H28.8 M26.9,158.71 H28.8 M26.9,164.3 H28.8 M25.6,169.9 H28.8 M29.4,169.9 V172.5 M41.33,169.9 V171.8 M53.26,169.9 V171.8 M65.19,169.9 V171.8 M77.12,169.9 V171.8 M89.05,169.9 V172.5 M100.98,169.9 V171.8 M112.91,169.9 V171.8 M124.84,169.9 V171.8 M136.77,169.9 V171.8 M148.7,169.9 V172.5 M160.63,169.9 V171.8 M172.56,169.9 V171.8" stroke="#111" stroke-width="0.8" fill="none"/>
<text transform="translate(24,29.2) rotate(-90)" text-anchor="middle" font-size="5.3" fill="#222a34">650</text>
<text transform="translate(24,57.18) rotate(-90)" text-anchor="middle" font-size="5.3" fill="#222a34">520</text>
<text transform="translate(24,85.16) rotate(-90)" text-anchor="middle" font-size="5.3" fill="#222a34">390</text>
<text transform="translate(24,113.14) rotate(-90)" text-anchor="middle" font-size="5.3" fill="#222a34">260</text>
<text transform="translate(24,141.12) rotate(-90)" text-anchor="middle" font-size="5.3" fill="#222a34">130</text>
<text transform="translate(24,169.1) rotate(-90)" text-anchor="middle" font-size="5.3" fill="#222a34">0</text>
<text x="29.4" y="179.5" text-anchor="middle" font-size="5.2" fill="#222a34">0</text>
<text x="89.05" y="179.5" text-anchor="middle" font-size="5.2" fill="#222a34">200</text>
<text x="148.7" y="179.5" text-anchor="middle" font-size="5.2" fill="#222a34">400</text>
<text x="115.8" y="181" text-anchor="middle" font-size="5.4" fill="#222a34">FL2-A</text>
<text transform="translate(17.3,100.3) rotate(-90)" text-anchor="middle" font-size="5.3" fill="#222a34">Counts</text>
<path d="M38.6,88.6 H77 M38.6,83.1 V94 M77,83.1 V94 M77,97.3 H101.2 M77,91.9 V102.7 M101.2,91.9 V102.7 M101.2,113.3 H132.3 M101.2,108 V118.7 M132.3,108 V118.7 M132.3,104.6 H160.2 M132.3,99.1 V110 M160.2,99.1 V110" stroke="#222226" stroke-width="0.9" fill="none"/>
<text x="56.2" y="85.3" text-anchor="middle" font-size="5.5" fill="#2a2a48">M1</text>
<text x="87.9" y="87.2" text-anchor="middle" font-size="5.5" fill="#2a2a48">M2</text>
<text x="118.6" y="106.8" text-anchor="middle" font-size="5.5" fill="#2a2a48">M3</text>
<text x="150.6" y="110.9" text-anchor="middle" font-size="5.5" fill="#2a2a48">M4</text>
</g>
<g transform="translate(293.8,207)">
<path d="M28.8,29.6 V170.5 M28.2,169.9 H172.8" stroke="#111" stroke-width="1.1" fill="none"/>
<path d="M37.5,170.45 L37.85,168.68 L38.5,168.59 L39.15,168.55 L39.8,168.44 L40.45,168.6 L41.1,168.46 L41.75,169.13 L42.4,168.8 L43.05,168.44 L43.7,168.66 L44.35,168.47 L45,169.07 L45.65,168.8 L46.3,168.97 L46.95,168.74 L47.6,168.72 L48.25,169.14 L48.9,168.99 L49.55,168.94 L50.2,168.46 L50.85,168.58 L51.5,169.03 L52.15,168.55 L52.8,169.05 L53.45,168.69 L54.1,169.05 L54.75,169.15 L55.4,168.5 L56.05,168.99 L56.7,168.99 L57.35,168.41 L58,168.5 L58.65,168.93 L59.3,168.43 L59.95,168.75 L60.6,168.64 L61.25,169 L61.9,168.44 L62.55,168.63 L63.2,168.43 L63.85,168.48 L64.5,168.93 L65.15,168.88 L65.8,169.03 L66.45,169.04 L67.1,169.1 L67.75,168.92 L68.4,168.7 L69.05,169.15 L69.7,168.64 L70.35,168.9 L71,168.92 L71.65,168.54 L72.3,168.79 L72.95,168.91 L73.6,168.79 L74.25,168.62 L74.9,169.11 L75.55,168.42 L76.2,169.13 L76.85,168.59 L77.5,168.52 L78.15,169.14 L78.8,168.56 L79.45,168.88 L80.1,168.72 L80.7,169.14 L80.75,168.97 L81.4,167.03 L81.5,166.17 L82.05,164.22 L82.3,162.81 L82.7,157.93 L83.2,151.83 L83.35,148.37 L84,133.38 L84.65,120.62 L84.9,115.72 L85.3,104.29 L85.55,97.15 L85.85,82.44 L85.95,77.26 L86.2,64.32 L86.6,59.9 L86.62,59.9 L86.7,59.9 L86.78,59.9 L87.2,64.32 L87.25,66.34 L87.65,82.44 L87.9,91.63 L88.05,97.15 L88.55,109.53 L88.8,115.72 L89.2,122.14 L89.85,132.57 L89.9,133.38 L90.5,145.68 L90.8,151.83 L91.15,155.32 L91.6,159.81 L91.8,160.41 L91.9,161.12 L92.45,162.15 L92.6,162.01 L93.1,162.76 L93.2,162.69 L93.75,163.07 L94.4,163.01 L94.7,164.21 L95.05,164.13 L95.5,164.68 L95.7,165.4 L96.35,165.6 L97,163.49 L97.65,164.73 L98.3,165.06 L98.95,166.11 L99.6,166.2 L100,166.05 L100.25,164.86 L100.9,164.94 L101.55,165.8 L102.2,165.85 L102.85,165.11 L103.5,166.08 L104.15,165.13 L104.8,165.94 L105.45,166.67 L106.1,165.53 L106.75,166.27 L107.4,165.6 L108,165.82 L108.05,166.33 L108.7,166.48 L109.35,165.66 L110,166.48 L110.65,165.89 L111.3,166.99 L111.95,166.59 L112.6,166.24 L113.25,165.94 L113.9,166.46 L114.55,165.8 L115.2,166.47 L115.85,165.6 L116.5,165.43 L117.15,166.22 L117.8,166.83 L118.45,165.53 L119.1,165.96 L119.75,165 L120,165.82 L120.4,166.02 L121.05,166.09 L121.7,166.07 L122.35,166.2 L123,166.4 L123.65,166.78 L124.3,165.18 L124.95,166.35 L125.6,166.16 L126.25,165.71 L126.9,165.92 L127.55,166.36 L128.2,166.11 L128.85,166.75 L129.5,167.15 L130,166.68 L130.15,166.94 L130.8,165.54 L131.45,165.07 L132.1,166.03 L132.75,165.91 L133.4,165.44 L134.05,165.39 L134.3,165.22 L134.7,165.55 L135.35,164.64 L136,164.93 L136.65,163.24 L137.3,165.18 L137.95,163.11 L138.4,163.78 L138.6,163.96 L139.25,163.39 L139.9,161.3 L140.3,160.82 L140.55,161.12 L141.2,159.63 L141.7,159.94 L141.85,159.16 L142.5,161.15 L143,162.04 L143.15,161.7 L143.8,162.02 L144.45,164.21 L144.9,164.38 L145.1,163.72 L145.75,164.34 L146.4,164.67 L147.05,165.97 L147.7,166.57 L148.2,166.29 L148.35,167.02 L149,167.53 L149.65,167.99 L150.3,168.03 L150.95,168.02 L151.5,168.72 L151.6,168.44 L152.25,168.24 L152.9,168.85 L153.55,168.67 L154.2,168.6 L154.85,168.79 L155,168.85 L155.5,168.45 L156.15,168.95 L156.8,169.08 L157.45,168.87 L158.1,169.06 L158.75,168.72 L159.4,169.07 L160,169.1 L160.05,169.21 L160.7,169.12 L161.35,169.45 L162,169.45 L162,170.45 Z" fill="#8729e0" stroke="none"/>
<path d="M37.85,168.68 L38.5,168.59 L39.15,168.55 L39.8,168.44 L40.45,168.6 L41.1,168.46 L41.75,169.13 L42.4,168.8 L43.05,168.44 L43.7,168.66 L44.35,168.47 L45,169.07 L45.65,168.8 L46.3,168.97 L46.95,168.74 L47.6,168.72 L48.25,169.14 L48.9,168.99 L49.55,168.94 L50.2,168.46 L50.85,168.58 L51.5,169.03 L52.15,168.55 L52.8,169.05 L53.45,168.69 L54.1,169.05 L54.75,169.15 L55.4,168.5 L56.05,168.99 L56.7,168.99 L57.35,168.41 L58,168.5 L58.65,168.93 L59.3,168.43 L59.95,168.75 L60.6,168.64 L61.25,169 L61.9,168.44 L62.55,168.63 L63.2,168.43 L63.85,168.48 L64.5,168.93 L65.15,168.88 L65.8,169.03 L66.45,169.04 L67.1,169.1 L67.75,168.92 L68.4,168.7 L69.05,169.15 L69.7,168.64 L70.35,168.9 L71,168.92 L71.65,168.54 L72.3,168.79 L72.95,168.91 L73.6,168.79 L74.25,168.62 L74.9,169.11 L75.55,168.42 L76.2,169.13 L76.85,168.59 L77.5,168.52 L78.15,169.14 L78.8,168.56 L79.45,168.88 L80.1,168.72 L80.7,169.14 L80.75,168.97 L81.4,167.03 L81.5,166.17 L82.05,164.22 L82.3,162.81 L82.7,157.93 L83.2,151.83 L83.35,148.37 L84,133.38 L84.65,120.62 L84.9,115.72 L85.3,104.29 L85.55,97.15 L85.85,82.44 L85.95,77.26 L86.2,64.32 L86.6,56.78 L86.62,56.4 L86.7,56.4 L86.78,56.4 L87.2,64.32 L87.25,66.34 L87.65,82.44 L87.9,91.63 L88.05,97.15 L88.55,109.53 L88.8,115.72 L89.2,122.14 L89.85,132.57 L89.9,133.38 L90.5,145.68 L90.8,151.83 L91.15,155.32 L91.6,159.81 L91.8,160.41 L91.9,161.12 L92.45,162.15 L92.6,162.01 L93.1,162.76 L93.2,162.69 L93.75,163.07 L94.4,163.01 L94.7,164.21 L95.05,164.13 L95.5,164.68 L95.7,165.4 L96.35,165.6 L97,163.49 L97.65,164.73 L98.3,165.06 L98.95,166.11 L99.6,166.2 L100,166.05 L100.25,164.86 L100.9,164.94 L101.55,165.8 L102.2,165.85 L102.85,165.11 L103.5,166.08 L104.15,165.13 L104.8,165.94 L105.45,166.67 L106.1,165.53 L106.75,166.27 L107.4,165.6 L108,165.82 L108.05,166.33 L108.7,166.48 L109.35,165.66 L110,166.48 L110.65,165.89 L111.3,166.99 L111.95,166.59 L112.6,166.24 L113.25,165.94 L113.9,166.46 L114.55,165.8 L115.2,166.47 L115.85,165.6 L116.5,165.43 L117.15,166.22 L117.8,166.83 L118.45,165.53 L119.1,165.96 L119.75,165 L120,165.82 L120.4,166.02 L121.05,166.09 L121.7,166.07 L122.35,166.2 L123,166.4 L123.65,166.78 L124.3,165.18 L124.95,166.35 L125.6,166.16 L126.25,165.71 L126.9,165.92 L127.55,166.36 L128.2,166.11 L128.85,166.75 L129.5,167.15 L130,166.68 L130.15,166.94 L130.8,165.54 L131.45,165.07 L132.1,166.03 L132.75,165.91 L133.4,165.44 L134.05,165.39 L134.3,165.22 L134.7,165.55 L135.35,164.64 L136,164.93 L136.65,163.24 L137.3,165.18 L137.95,163.11 L138.4,163.78 L138.6,163.96 L139.25,163.39 L139.9,161.3 L140.3,160.82 L140.55,161.12 L141.2,159.63 L141.7,159.94 L141.85,159.16 L142.5,161.15 L143,162.04 L143.15,161.7 L143.8,162.02 L144.45,164.21 L144.9,164.38 L145.1,163.72 L145.75,164.34 L146.4,164.67 L147.05,165.97 L147.7,166.57 L148.2,166.29 L148.35,167.02 L149,167.53 L149.65,167.99 L150.3,168.03 L150.95,168.02 L151.5,168.72 L151.6,168.44 L152.25,168.24 L152.9,168.85 L153.55,168.67 L154.2,168.6 L154.85,168.79 L155,168.85 L155.5,168.45 L156.15,168.95 L156.8,169.08 L157.45,168.87 L158.1,169.06 L158.75,168.72 L159.4,169.07 L160,169.1 L160.05,169.21 L160.7,169.12 L161.35,169.45 L162,169.45" fill="none" stroke="#0c0418" stroke-width="0.65" stroke-linejoin="round"/>
<path d="M25.6,30 H28.8 M26.9,35.6 H28.8 M26.9,41.19 H28.8 M26.9,46.79 H28.8 M26.9,52.38 H28.8 M25.6,57.98 H28.8 M26.9,63.58 H28.8 M26.9,69.17 H28.8 M26.9,74.77 H28.8 M26.9,80.36 H28.8 M25.6,85.96 H28.8 M26.9,91.56 H28.8 M26.9,97.15 H28.8 M26.9,102.75 H28.8 M26.9,108.34 H28.8 M25.6,113.94 H28.8 M26.9,119.54 H28.8 M26.9,125.13 H28.8 M26.9,130.73 H28.8 M26.9,136.32 H28.8 M25.6,141.92 H28.8 M26.9,147.52 H28.8 M26.9,153.11 H28.8 M26.9,158.71 H28.8 M26.9,164.3 H28.8 M25.6,169.9 H28.8 M29.4,169.9 V172.5 M41.33,169.9 V171.8 M53.26,169.9 V171.8 M65.19,169.9 V171.8 M77.12,169.9 V171.8 M89.05,169.9 V172.5 M100.98,169.9 V171.8 M112.91,169.9 V171.8 M124.84,169.9 V171.8 M136.77,169.9 V171.8 M148.7,169.9 V172.5 M160.63,169.9 V171.8 M172.56,169.9 V171.8" stroke="#111" stroke-width="0.8" fill="none"/>
<text transform="translate(24,29.2) rotate(-90)" text-anchor="middle" font-size="5.3" fill="#222a34">650</text>
<text transform="translate(24,57.18) rotate(-90)" text-anchor="middle" font-size="5.3" fill="#222a34">520</text>
<text transform="translate(24,85.16) rotate(-90)" text-anchor="middle" font-size="5.3" fill="#222a34">390</text>
<text transform="translate(24,113.14) rotate(-90)" text-anchor="middle" font-size="5.3" fill="#222a34">260</text>
<text transform="translate(24,141.12) rotate(-90)" text-anchor="middle" font-size="5.3" fill="#222a34">130</text>
<text transform="translate(24,169.1) rotate(-90)" text-anchor="middle" font-size="5.3" fill="#222a34">0</text>
<text x="29.4" y="179.5" text-anchor="middle" font-size="5.2" fill="#222a34">0</text>
<text x="89.05" y="179.5" text-anchor="middle" font-size="5.2" fill="#222a34">200</text>
<text x="148.7" y="179.5" text-anchor="middle" font-size="5.2" fill="#222a34">400</text>
<text x="117.8" y="184" text-anchor="middle" font-size="5.4" fill="#222a34">FL2-A</text>
<text transform="translate(17.3,100.3) rotate(-90)" text-anchor="middle" font-size="5.3" fill="#222a34">Counts</text>
<path d="M38.6,88.6 H77 M38.6,83.1 V94 M77,83.1 V94 M77,97.3 H101.2 M77,91.9 V102.7 M101.2,91.9 V102.7 M101.2,113.3 H132.3 M101.2,108 V118.7 M132.3,108 V118.7 M132.3,104.6 H160.2 M132.3,99.1 V110 M160.2,99.1 V110" stroke="#222226" stroke-width="0.9" fill="none"/>
<text x="56.2" y="85.3" text-anchor="middle" font-size="5.5" fill="#2a2a48">M1</text>
<text x="87.9" y="87.2" text-anchor="middle" font-size="5.5" fill="#2a2a48">M2</text>
<text x="118.6" y="106.8" text-anchor="middle" font-size="5.5" fill="#2a2a48">M3</text>
<text x="150.6" y="110.9" text-anchor="middle" font-size="5.5" fill="#2a2a48">M4</text>
</g>
<g fill="#000">
<text x="24.2" y="19.9" font-size="10.8" font-weight="700" stroke="#000" stroke-width="0.5" textLength="6.4" lengthAdjust="spacingAndGlyphs">a</text>
<text x="53.5" y="25.6" font-size="10.8" font-weight="700" stroke="#000" stroke-width="0.5" textLength="14.5" lengthAdjust="spacingAndGlyphs">G1</text>
<text x="71.4" y="25.6" font-size="10.8" font-weight="700" stroke="#000" stroke-width="0.5" textLength="40.3" lengthAdjust="spacingAndGlyphs">63.60%</text>
<text x="115.6" y="25.6" font-size="10.8" font-weight="400" stroke="#000" stroke-width="0.6" textLength="7" lengthAdjust="spacingAndGlyphs">±</text>
<text x="125.3" y="25.6" font-size="10.8" font-weight="400" stroke="#000" stroke-width="0.6" textLength="37.3" lengthAdjust="spacingAndGlyphs">0.6621</text>
<text x="58.8" y="41.5" font-size="10.8" font-weight="700" stroke="#000" stroke-width="0.5" textLength="5.8" lengthAdjust="spacingAndGlyphs">S</text>
<text x="71.4" y="41.5" font-size="10.8" font-weight="700" stroke="#000" stroke-width="0.5" textLength="40.3" lengthAdjust="spacingAndGlyphs">20.68%</text>
<text x="115.6" y="41.5" font-size="10.8" font-weight="400" stroke="#000" stroke-width="0.6" textLength="7" lengthAdjust="spacingAndGlyphs">±</text>
<text x="125.3" y="41.5" font-size="10.8" font-weight="400" stroke="#000" stroke-width="0.6" textLength="37.6" lengthAdjust="spacingAndGlyphs">0.7398</text>
<text x="53.5" y="57.6" font-size="10.8" font-weight="700" stroke="#000" stroke-width="0.5" textLength="14.5" lengthAdjust="spacingAndGlyphs">G2</text>
<text x="71.4" y="57.6" font-size="10.8" font-weight="700" stroke="#000" stroke-width="0.5" textLength="40.3" lengthAdjust="spacingAndGlyphs">22.54%</text>
<text x="115.6" y="57.6" font-size="10.8" font-weight="400" stroke="#000" stroke-width="0.6" textLength="7" lengthAdjust="spacingAndGlyphs">±</text>
<text x="125.3" y="57.6" font-size="10.8" font-weight="400" stroke="#000" stroke-width="0.6" textLength="30.3" lengthAdjust="spacingAndGlyphs">1.561</text>
<text x="225.2" y="25" font-size="10.8" font-weight="700" stroke="#000" stroke-width="0.5" textLength="15" lengthAdjust="spacingAndGlyphs">G1</text>
<text x="242.6" y="25" font-size="10.8" font-weight="700" stroke="#000" stroke-width="0.5" textLength="40.8" lengthAdjust="spacingAndGlyphs">64.70%</text>
<text x="287.5" y="25" font-size="10.8" font-weight="400" stroke="#000" stroke-width="0.6" textLength="7" lengthAdjust="spacingAndGlyphs">±</text>
<text x="297" y="25" font-size="10.8" font-weight="400" stroke="#000" stroke-width="0.6" textLength="37.3" lengthAdjust="spacingAndGlyphs">0.9609</text>
<text x="230.2" y="40.8" font-size="10.8" font-weight="700" stroke="#000" stroke-width="0.5" textLength="6.6" lengthAdjust="spacingAndGlyphs">S</text>
<text x="242.6" y="40.8" font-size="10.8" font-weight="700" stroke="#000" stroke-width="0.5" textLength="40.8" lengthAdjust="spacingAndGlyphs">19.48%</text>
<text x="287.5" y="40.8" font-size="10.8" font-weight="400" stroke="#000" stroke-width="0.6" textLength="7" lengthAdjust="spacingAndGlyphs">±</text>
<text x="297" y="40.8" font-size="10.8" font-weight="400" stroke="#000" stroke-width="0.6" textLength="31.2" lengthAdjust="spacingAndGlyphs">1.342</text>
<text x="225.2" y="57" font-size="10.8" font-weight="700" stroke="#000" stroke-width="0.5" textLength="15" lengthAdjust="spacingAndGlyphs">G2</text>
<text x="242.6" y="57" font-size="10.8" font-weight="700" stroke="#000" stroke-width="0.5" textLength="40.8" lengthAdjust="spacingAndGlyphs">21.68%</text>
<text x="287.5" y="57" font-size="10.8" font-weight="400" stroke="#000" stroke-width="0.6" textLength="7" lengthAdjust="spacingAndGlyphs">±</text>
<text x="297" y="57" font-size="10.8" font-weight="400" stroke="#000" stroke-width="0.6" textLength="30.3" lengthAdjust="spacingAndGlyphs">1.495</text>
<text x="405.8" y="25.4" font-size="10.8" font-weight="700" stroke="#000" stroke-width="0.5" textLength="15" lengthAdjust="spacingAndGlyphs">G1</text>
<text x="423.2" y="25.4" font-size="10.8" font-weight="700" stroke="#000" stroke-width="0.5" textLength="40.7" lengthAdjust="spacingAndGlyphs">68.30%</text>
<text x="467.8" y="25.4" font-size="10.8" font-weight="400" stroke="#000" stroke-width="0.6" textLength="7.1" lengthAdjust="spacingAndGlyphs">±</text>
<text x="477.5" y="25.4" font-size="10.8" font-weight="400" stroke="#000" stroke-width="0.6" textLength="37.3" lengthAdjust="spacingAndGlyphs">0.9607</text>
<text x="411.1" y="41.4" font-size="10.8" font-weight="700" stroke="#000" stroke-width="0.5" textLength="6.4" lengthAdjust="spacingAndGlyphs">S</text>
<text x="423.2" y="41.4" font-size="10.8" font-weight="700" stroke="#000" stroke-width="0.5" textLength="40.7" lengthAdjust="spacingAndGlyphs">16.40%</text>
<text x="467.8" y="41.4" font-size="10.8" font-weight="400" stroke="#000" stroke-width="0.6" textLength="7.1" lengthAdjust="spacingAndGlyphs">±</text>
<text x="477.5" y="41.4" font-size="10.8" font-weight="400" stroke="#000" stroke-width="0.6" textLength="37.7" lengthAdjust="spacingAndGlyphs">0.6807</text>
<text x="405.8" y="57.6" font-size="10.8" font-weight="700" stroke="#000" stroke-width="0.5" textLength="15" lengthAdjust="spacingAndGlyphs">G2</text>
<text x="423.2" y="57.6" font-size="10.8" font-weight="700" stroke="#000" stroke-width="0.5" textLength="40.7" lengthAdjust="spacingAndGlyphs">17.18%</text>
<text x="467.8" y="57.6" font-size="10.8" font-weight="400" stroke="#000" stroke-width="0.6" textLength="7.1" lengthAdjust="spacingAndGlyphs">±</text>
<text x="477.5" y="57.6" font-size="10.8" font-weight="400" stroke="#000" stroke-width="0.6" textLength="30.4" lengthAdjust="spacingAndGlyphs">1.127</text>
<text x="78.4" y="223" font-size="10.8" font-weight="700" stroke="#000" stroke-width="0.5" textLength="15.5" lengthAdjust="spacingAndGlyphs">G1</text>
<text x="96.5" y="223" font-size="10.8" font-weight="700" stroke="#000" stroke-width="0.5" textLength="40.5" lengthAdjust="spacingAndGlyphs">72.51%</text>
<text x="140.5" y="223" font-size="10.8" font-weight="400" stroke="#000" stroke-width="0.6" textLength="7" lengthAdjust="spacingAndGlyphs">±</text>
<text x="150.3" y="223" font-size="10.8" font-weight="400" stroke="#000" stroke-width="0.6" textLength="30.2" lengthAdjust="spacingAndGlyphs">1.229</text>
<text x="83.9" y="239" font-size="10.8" font-weight="700" stroke="#000" stroke-width="0.5" textLength="6.4" lengthAdjust="spacingAndGlyphs">S</text>
<text x="96.5" y="239" font-size="10.8" font-weight="700" stroke="#000" stroke-width="0.5" textLength="40.5" lengthAdjust="spacingAndGlyphs">16.12%</text>
<text x="140.5" y="239" font-size="10.8" font-weight="400" stroke="#000" stroke-width="0.6" textLength="7" lengthAdjust="spacingAndGlyphs">±</text>
<text x="150.3" y="239" font-size="10.8" font-weight="400" stroke="#000" stroke-width="0.6" textLength="37.5" lengthAdjust="spacingAndGlyphs">0.9851</text>
<text x="78.4" y="254.5" font-size="10.8" font-weight="700" stroke="#000" stroke-width="0.5" textLength="15.5" lengthAdjust="spacingAndGlyphs">G2</text>
<text x="96.5" y="254.5" font-size="10.8" font-weight="700" stroke="#000" stroke-width="0.5" textLength="40.5" lengthAdjust="spacingAndGlyphs">13.74%</text>
<text x="140.5" y="254.5" font-size="10.8" font-weight="400" stroke="#000" stroke-width="0.6" textLength="7" lengthAdjust="spacingAndGlyphs">±</text>
<text x="150.3" y="254.5" font-size="10.8" font-weight="400" stroke="#000" stroke-width="0.6" textLength="37.2" lengthAdjust="spacingAndGlyphs">0.9853</text>
<text x="339.4" y="219" font-size="10.8" font-weight="700" stroke="#000" stroke-width="0.5" textLength="15" lengthAdjust="spacingAndGlyphs">G1</text>
<text x="357.5" y="219" font-size="10.8" font-weight="700" stroke="#000" stroke-width="0.5" textLength="39.8" lengthAdjust="spacingAndGlyphs">77.90%</text>
<text x="401.6" y="219" font-size="10.8" font-weight="400" stroke="#000" stroke-width="0.6" textLength="7" lengthAdjust="spacingAndGlyphs">±</text>
<text x="411.1" y="219" font-size="10.8" font-weight="400" stroke="#000" stroke-width="0.6" textLength="30.3" lengthAdjust="spacingAndGlyphs">1.331</text>
<text x="344.3" y="234.5" font-size="10.8" font-weight="700" stroke="#000" stroke-width="0.5" textLength="6.8" lengthAdjust="spacingAndGlyphs">S</text>
<text x="357.5" y="234.5" font-size="10.8" font-weight="700" stroke="#000" stroke-width="0.5" textLength="39.8" lengthAdjust="spacingAndGlyphs">11.10%</text>
<text x="401.6" y="234.5" font-size="10.8" font-weight="400" stroke="#000" stroke-width="0.6" textLength="7" lengthAdjust="spacingAndGlyphs">±</text>
<text x="411.1" y="234.5" font-size="10.8" font-weight="400" stroke="#000" stroke-width="0.6" textLength="37.8" lengthAdjust="spacingAndGlyphs">0.8764</text>
<text x="339.4" y="250.5" font-size="10.8" font-weight="700" stroke="#000" stroke-width="0.5" textLength="15" lengthAdjust="spacingAndGlyphs">G2</text>
<text x="357.5" y="250.5" font-size="10.8" font-weight="700" stroke="#000" stroke-width="0.5" textLength="39.8" lengthAdjust="spacingAndGlyphs">12.11%</text>
<text x="401.6" y="250.5" font-size="10.8" font-weight="400" stroke="#000" stroke-width="0.6" textLength="7" lengthAdjust="spacingAndGlyphs">±</text>
<text x="411.1" y="250.5" font-size="10.8" font-weight="400" stroke="#000" stroke-width="0.6" textLength="29.9" lengthAdjust="spacingAndGlyphs">1.222</text>
<text x="40.1" y="159.4" font-size="10.6" font-weight="700" stroke="#000" stroke-width="0.5" textLength="15.4" lengthAdjust="spacingAndGlyphs">ctr</text>
<text x="217" y="159.2" font-size="10.6" font-weight="700" stroke="#000" stroke-width="0.5" textLength="35.4" lengthAdjust="spacingAndGlyphs">10 µM</text>
<text x="392.5" y="159.5" font-size="10.6" font-weight="700" stroke="#000" stroke-width="0.5" textLength="36" lengthAdjust="spacingAndGlyphs">25 µM</text>
<text x="78" y="364.5" font-size="10.6" font-weight="700" stroke="#000" stroke-width="0.5" textLength="36.3" lengthAdjust="spacingAndGlyphs">50 µM</text>
<text x="330.2" y="365.5" font-size="10.6" font-weight="700" stroke="#000" stroke-width="0.5" textLength="42.4" lengthAdjust="spacingAndGlyphs">100 µM</text>
</g>
</g></svg></body></html>
